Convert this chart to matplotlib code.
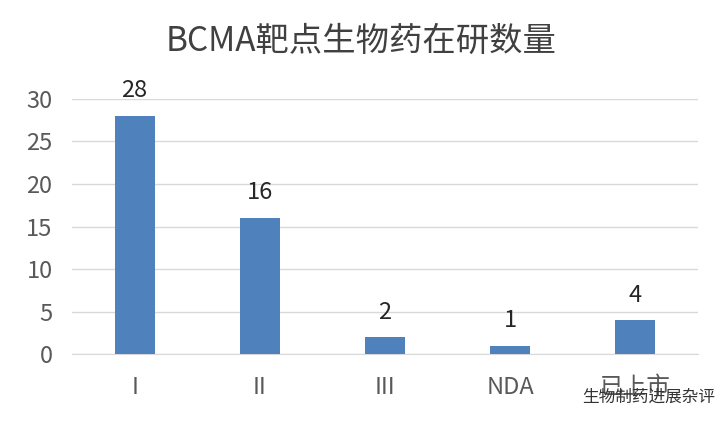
import matplotlib
matplotlib.use("Agg")
import matplotlib.pyplot as plt

plt.rcParams['font.family'] = ['Noto Sans CJK SC', 'DejaVu Sans']

categories = ["I", "II", "III", "NDA", "已上市"]
values = [28, 16, 2, 1, 4]
yticks = [0, 5, 10, 15, 20, 25, 30]

fig = plt.figure(figsize=(7.22, 4.34), dpi=100)
ax = fig.add_axes([0.0997, 0.184, 0.867, 0.588])
ax.bar(range(len(categories)), values, width=0.32, color="#4F81BD", zorder=3)
for i, v in enumerate(values):
    ax.text(i, v + 1.6, str(v), ha="center", va="bottom", fontsize=17, color="#262626")
ax.set_xlim(-0.5, len(categories) - 0.5)
ax.set_ylim(0, 30)
ax.set_yticks(yticks)
ax.set_xticks(range(len(categories)))
ax.set_xticklabels(categories)
ax.tick_params(axis="both", length=0, labelsize=17, colors="#595959")
ax.tick_params(axis="x", pad=16)
ax.tick_params(axis="y", pad=14)
ax.grid(axis="y", color="#D9D9D9", linewidth=1, zorder=0)
for s in ["top", "right", "left"]:
    ax.spines[s].set_visible(False)
ax.spines["bottom"].set_color("#D9D9D9")
fig.text(0.5, 0.905, "BCMA靶点生物药在研数量", ha="center", va="center", fontsize=24, color="#404040")
fig.text(0.99, 0.085, "生物制药进展杂评", ha="right", va="center", fontsize=12, color="#333333")
fig.savefig("out.png", dpi=100)
